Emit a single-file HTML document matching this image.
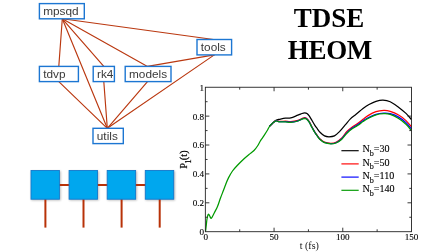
<!DOCTYPE html>
<html><head><meta charset="utf-8"><title>TDSE HEOM</title>
<style>html,body{margin:0;padding:0;background:#fff}body{width:448px;height:252px;overflow:hidden}svg{display:block}</style></head>
<body>
<svg width="448" height="252" viewBox="0 0 448 252">
<rect width="448" height="252" fill="#fff"/>
<g stroke="#ba3810" stroke-width="1.15" stroke-linecap="round">
<line x1="62.3" y1="18.8" x2="58.8" y2="66.4"/>
<line x1="62.3" y1="18.8" x2="103.8" y2="66.4"/>
<line x1="62.3" y1="18.8" x2="147.5" y2="66.4"/>
<line x1="62.3" y1="18.8" x2="213.6" y2="39.5"/>
<line x1="62.3" y1="18.8" x2="107.3" y2="128.3"/>
<line x1="214.3" y1="54.9" x2="147.5" y2="66.4"/>
<line x1="214.3" y1="54.9" x2="107.3" y2="128.3"/>
<line x1="58.8" y1="81.6" x2="107.3" y2="128.3"/>
<line x1="103.8" y1="81.6" x2="107.3" y2="128.3"/>
<line x1="147.5" y1="81.6" x2="107.3" y2="128.3"/>
</g>
<g fill="#fff" stroke="#1c76d2" stroke-width="1.4">
<rect x="39.4" y="3.6" width="44.9" height="15.2"/>
<rect x="197.0" y="39.5" width="34.6" height="15.4"/>
<rect x="39.4" y="66.4" width="39.0" height="15.2"/>
<rect x="93.2" y="66.4" width="21.2" height="15.2"/>
<rect x="125.2" y="66.4" width="45.8" height="15.2"/>
<rect x="93.0" y="128.3" width="30.3" height="15.3"/>
</g>
<g font-family="'Liberation Sans', sans-serif" font-size="11.8" fill="#3a3a3a">
<text x="43.2" y="15.0">mpsqd</text>
<text x="200.8" y="51.0">tools</text>
<text x="43.2" y="77.8">tdvp</text>
<text x="97.0" y="77.8">rk4</text>
<text x="129.0" y="77.8">models</text>
<text x="96.8" y="139.8">utils</text>
</g>
<defs><filter id="sh" x="-10%" y="-10%" width="130%" height="130%"><feGaussianBlur stdDeviation="0.8"/></filter></defs>
<g fill="#000" opacity="0.28" filter="url(#sh)">
<rect x="31.30" y="171" width="29.4" height="29.4"/>
<rect x="69.40" y="171" width="29.4" height="29.4"/>
<rect x="107.50" y="171" width="29.4" height="29.4"/>
<rect x="145.60" y="171" width="29.4" height="29.4"/>
</g>
<g stroke="#b83208" stroke-width="2">
<line x1="45" y1="185" x2="160" y2="185"/>
<line x1="45.40" y1="199" x2="45.40" y2="227.6"/>
<line x1="83.50" y1="199" x2="83.50" y2="227.6"/>
<line x1="121.60" y1="199" x2="121.60" y2="227.6"/>
<line x1="159.70" y1="199" x2="159.70" y2="227.6"/>
</g>
<g fill="#00a7ee" stroke="#1479cc" stroke-width="0.9">
<rect x="31.00" y="170.5" width="28.4" height="28.7"/>
<rect x="69.10" y="170.5" width="28.4" height="28.7"/>
<rect x="107.20" y="170.5" width="28.4" height="28.7"/>
<rect x="145.30" y="170.5" width="28.4" height="28.7"/>
</g>
<g font-family="'Liberation Serif', serif" font-weight="bold" font-size="27" fill="#000" text-anchor="middle">
<text x="328.9" y="27.3">TDSE</text><text x="329.9" y="59.4" letter-spacing="-0.3">HEOM</text></g>
<g fill="none" stroke-width="1.25" stroke-linejoin="round">
<path d="M269.4 126.5C269.9 126.0 271.4 124.2 272.5 123.2C273.6 122.2 274.9 121.0 276.0 120.3C277.1 119.6 277.6 119.6 279.2 119.3C280.8 119.0 283.5 118.4 285.4 118.2C287.3 118.0 288.7 118.4 290.8 117.9C292.9 117.4 296.0 115.9 297.9 115.2C299.8 114.5 300.9 113.9 302.0 113.5C303.1 113.1 303.9 112.9 304.7 112.9C305.5 112.9 306.2 112.9 307.0 113.5C307.8 114.1 308.6 115.1 309.4 116.2C310.2 117.4 311.1 119.0 312.0 120.5C312.9 122.0 313.8 123.8 314.7 125.2C315.6 126.6 316.6 127.8 317.5 129.0C318.4 130.2 318.8 131.2 320.0 132.3C321.2 133.5 323.0 135.2 324.5 135.9C326.0 136.7 327.4 136.8 329.0 136.8C330.6 136.8 332.6 136.8 334.4 135.9C336.2 135.0 337.9 133.2 339.7 131.4C341.5 129.6 343.2 127.3 345.0 125.2C346.8 123.1 348.6 120.7 350.4 118.9C352.2 117.1 353.7 116.2 355.8 114.5C357.9 112.8 360.8 110.2 363.0 108.5C365.2 106.8 366.8 105.7 369.0 104.5C371.2 103.3 373.7 102.0 376.0 101.3C378.3 100.6 380.6 100.0 383.0 100.1C385.4 100.2 387.7 100.6 390.2 101.7C392.7 102.8 395.6 105.0 398.2 106.9C400.8 108.9 403.8 111.3 406.0 113.4C408.2 115.5 410.5 118.5 411.4 119.5" stroke="#000"/>
<path d="M269.4 126.5C269.9 126.0 271.4 124.2 272.5 123.2C273.6 122.2 274.9 120.9 276.0 120.6C277.1 120.3 277.6 121.2 279.2 121.3C280.8 121.4 283.5 121.2 285.4 121.2C287.3 121.2 288.7 121.8 290.8 121.6C292.9 121.4 296.0 120.8 297.9 120.3C299.8 119.8 300.9 119.0 302.0 118.5C303.1 118.0 303.9 117.6 304.7 117.6C305.5 117.6 306.2 118.0 307.0 118.7C307.8 119.4 308.6 120.4 309.4 121.8C310.2 123.2 311.1 125.3 312.0 127.0C312.9 128.7 313.8 130.3 314.7 131.8C315.6 133.3 316.6 134.6 317.5 135.8C318.4 137.0 318.8 137.9 320.0 139.0C321.2 140.1 322.7 141.5 324.5 142.2C326.3 142.9 328.9 143.3 330.8 143.3C332.7 143.3 334.2 143.1 336.0 142.3C337.8 141.5 339.7 140.1 341.5 138.3C343.3 136.5 345.1 133.3 346.9 131.4C348.7 129.5 350.4 128.3 352.2 127.0C354.0 125.7 355.8 124.8 357.6 123.5C359.4 122.2 361.3 120.6 363.0 119.3C364.7 118.0 365.8 116.9 368.0 115.6C370.2 114.3 373.4 112.6 376.0 111.7C378.6 110.8 381.5 110.5 383.9 110.4C386.3 110.3 387.8 110.6 390.2 111.3C392.6 112.0 395.6 113.2 398.2 114.8C400.8 116.3 403.8 118.6 406.0 120.6C408.2 122.6 410.5 125.8 411.4 126.8" stroke="#f00"/>
<path d="M269.4 126.5C269.9 126.0 271.4 124.2 272.5 123.2C273.6 122.2 274.9 121.1 276.0 120.8C277.1 120.5 277.6 121.5 279.2 121.6C280.8 121.7 283.5 121.5 285.4 121.6C287.3 121.7 288.7 122.2 290.8 122.1C292.9 122.0 296.0 121.3 297.9 120.8C299.8 120.3 300.9 119.4 302.0 119.0C303.1 118.6 303.9 118.2 304.7 118.2C305.5 118.2 306.2 118.6 307.0 119.3C307.8 120.0 308.6 121.0 309.4 122.3C310.2 123.6 311.1 125.7 312.0 127.3C312.9 128.9 313.8 130.6 314.7 132.1C315.6 133.6 316.6 134.9 317.5 136.1C318.4 137.3 318.8 138.2 320.0 139.3C321.2 140.4 322.7 141.8 324.5 142.5C326.3 143.2 328.9 143.6 330.8 143.6C332.7 143.6 334.2 143.5 336.0 142.7C337.8 141.9 339.7 140.7 341.5 139.0C343.3 137.3 345.1 134.4 346.9 132.6C348.7 130.8 350.4 129.3 352.2 128.0C354.0 126.7 355.8 126.0 357.6 124.8C359.4 123.6 361.3 122.0 363.0 120.8C364.7 119.6 365.8 118.9 368.0 117.8C370.2 116.7 373.4 115.1 376.0 114.3C378.6 113.5 381.5 113.3 383.9 113.2C386.3 113.1 387.8 113.1 390.2 113.7C392.6 114.3 395.6 115.4 398.2 116.9C400.8 118.4 403.8 120.6 406.0 122.6C408.2 124.6 410.5 127.9 411.4 129.0" stroke="#00f"/>
<path d="M205.6 231.0C205.7 230.0 206.1 227.0 206.3 225.0C206.5 223.0 206.7 220.8 207.0 219.0C207.3 217.2 207.8 215.0 208.2 214.4C208.6 213.8 209.1 214.9 209.5 215.5C209.9 216.1 210.2 217.3 210.5 217.8C210.8 218.3 211.0 218.5 211.3 218.3C211.6 218.1 212.0 217.5 212.5 216.5C213.0 215.5 213.7 214.2 214.5 212.5C215.3 210.8 216.5 209.0 217.5 206.6C218.5 204.2 219.5 200.8 220.5 198.0C221.5 195.2 222.8 192.2 223.6 190.0C224.4 187.8 224.7 187.1 225.5 185.0C226.3 182.9 227.4 179.9 228.6 177.6C229.8 175.3 231.1 173.0 232.5 171.0C233.9 169.0 235.1 167.7 237.0 165.7C238.9 163.7 241.8 160.9 243.8 159.0C245.8 157.1 247.3 155.9 249.0 154.5C250.7 153.1 252.6 151.9 254.0 150.5C255.4 149.1 256.4 147.7 257.5 146.0C258.6 144.3 259.6 142.1 260.7 140.4C261.8 138.7 262.9 137.4 264.0 135.7C265.1 134.0 266.5 131.8 267.4 130.3C268.3 128.8 268.5 127.7 269.4 126.5C270.2 125.3 271.4 124.2 272.5 123.2C273.6 122.2 274.9 121.0 276.0 120.8C277.1 120.6 277.6 121.6 279.2 121.8C280.8 122.0 283.5 121.7 285.4 121.8C287.3 121.9 288.7 122.4 290.8 122.3C292.9 122.2 296.0 121.5 297.9 121.0C299.8 120.5 300.9 119.6 302.0 119.2C303.1 118.8 303.9 118.4 304.7 118.4C305.5 118.5 306.2 118.8 307.0 119.5C307.8 120.2 308.6 121.2 309.4 122.5C310.2 123.8 311.1 125.9 312.0 127.5C312.9 129.1 313.8 130.8 314.7 132.3C315.6 133.8 316.6 135.1 317.5 136.3C318.4 137.5 318.8 138.4 320.0 139.5C321.2 140.6 322.7 142.0 324.5 142.7C326.3 143.4 328.9 143.8 330.8 143.9C332.7 144.0 334.2 143.7 336.0 143.0C337.8 142.3 339.7 141.1 341.5 139.5C343.3 137.9 345.1 135.0 346.9 133.2C348.7 131.4 350.4 130.0 352.2 128.8C354.0 127.5 355.8 126.7 357.6 125.5C359.4 124.3 361.3 122.8 363.0 121.6C364.7 120.4 365.8 119.6 368.0 118.5C370.2 117.4 373.4 115.6 376.0 114.8C378.6 114.0 381.5 113.8 383.9 113.7C386.3 113.6 387.8 113.6 390.2 114.4C392.6 115.2 395.6 116.7 398.2 118.3C400.8 119.9 403.8 122.2 406.0 124.2C408.2 126.2 410.5 129.5 411.4 130.6" stroke="#009a00"/>
</g>
<g stroke="#222" stroke-width="0.9" fill="none">
<rect x="205.35" y="87.25" width="206.15" height="144.45"/>
<path d="M239.71 231.70v-2.4M239.71 87.25v2.4M274.07 231.70v-4.0M274.07 87.25v4.0M308.43 231.70v-2.4M308.43 87.25v2.4M342.78 231.70v-4.0M342.78 87.25v4.0M377.14 231.70v-2.4M377.14 87.25v2.4M205.35 217.25h2.2M411.50 217.25h-2.2M205.35 202.81h4.0M411.50 202.81h-4.0M205.35 188.36h2.2M411.50 188.36h-2.2M205.35 173.92h4.0M411.50 173.92h-4.0M205.35 159.47h2.2M411.50 159.47h-2.2M205.35 145.03h4.0M411.50 145.03h-4.0M205.35 130.58h2.2M411.50 130.58h-2.2M205.35 116.14h4.0M411.50 116.14h-4.0M205.35 101.69h2.2M411.50 101.69h-2.2"/>
</g>
<g font-family="'Liberation Serif', serif" font-size="9.1" fill="#000" stroke="#000" stroke-width="0.12">
<text x="205.7" y="240.2" text-anchor="middle">0</text>
<text x="274.1" y="240.2" text-anchor="middle">50</text>
<text x="342.8" y="240.2" text-anchor="middle">100</text>
<text x="411.5" y="240.2" text-anchor="middle">150</text>
<text x="204.0" y="235.1" text-anchor="end">0</text>
<text x="204.0" y="206.2" text-anchor="end">0.2</text>
<text x="204.0" y="177.3" text-anchor="end">0.4</text>
<text x="204.0" y="148.4" text-anchor="end">0.6</text>
<text x="204.0" y="119.5" text-anchor="end">0.8</text>
<text x="204.0" y="90.7" text-anchor="end">1</text>
</g>
<text x="309.3" y="249" font-family="'Liberation Serif', serif" font-size="10" fill="#111" text-anchor="middle">t (fs)</text>
<text transform="translate(186.8,159.6) rotate(-90)" font-family="'Liberation Serif', serif" font-size="10.4" fill="#000" stroke="#000" stroke-width="0.2" text-anchor="middle">P<tspan font-size="8.8" dy="4" dx="-0.6">1</tspan><tspan dy="-4" dx="-0.9">(t)</tspan></text>
<line x1="341.4" y1="150.7" x2="358.7" y2="150.7" stroke="#000" stroke-width="1.15"/>
<text transform="translate(362.5 152.4) scale(0.935 1)" font-family="'Liberation Serif', serif" font-size="10.8" fill="#000" stroke="#000" stroke-width="0.12">N<tspan font-size="8.7" dy="3.8">b</tspan><tspan dy="-3.8">=30</tspan></text>
<line x1="341.4" y1="163.9" x2="358.7" y2="163.9" stroke="#f00" stroke-width="1.15"/>
<text transform="translate(362.5 165.6) scale(0.935 1)" font-family="'Liberation Serif', serif" font-size="10.8" fill="#000" stroke="#000" stroke-width="0.12">N<tspan font-size="8.7" dy="3.8">b</tspan><tspan dy="-3.8">=50</tspan></text>
<line x1="341.4" y1="177.1" x2="358.7" y2="177.1" stroke="#00f" stroke-width="1.15"/>
<text transform="translate(362.5 178.8) scale(0.935 1)" font-family="'Liberation Serif', serif" font-size="10.8" fill="#000" stroke="#000" stroke-width="0.12">N<tspan font-size="8.7" dy="3.8">b</tspan><tspan dy="-3.8">=110</tspan></text>
<line x1="341.4" y1="190.3" x2="358.7" y2="190.3" stroke="#009a00" stroke-width="1.15"/>
<text transform="translate(362.5 192.0) scale(0.935 1)" font-family="'Liberation Serif', serif" font-size="10.8" fill="#000" stroke="#000" stroke-width="0.12">N<tspan font-size="8.7" dy="3.8">b</tspan><tspan dy="-3.8">=140</tspan></text>
</svg>
</body></html>
